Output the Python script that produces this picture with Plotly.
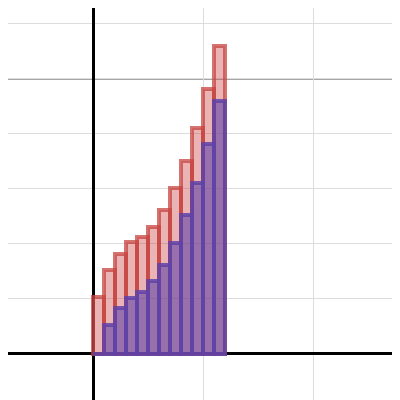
import plotly.graph_objects as go

# Riemann sum rectangles, width 0.1 starting at x=0
bar_left = [0.0, 0.1, 0.2, 0.3, 0.4, 0.5, 0.6, 0.7, 0.8, 0.9, 1.0, 1.1]
upper_heights = [1.04, 1.53, 1.82, 2.04, 2.13, 2.31, 2.62, 3.02, 3.51, 4.11, 4.82, 5.6]
lower_heights = [0.0, 0.53, 0.84, 1.02, 1.13, 1.33, 1.62, 2.02, 2.53, 3.11, 3.82, 4.6]
bar_width = 0.1
ref_line_y = 5

red = 'rgba(199,68,64,0.75)'
purple = 'rgba(96,66,166,0.85)'

fig = go.Figure()
fig.add_trace(go.Bar(
    x=bar_left, y=upper_heights, width=bar_width, offset=0,
    marker=dict(color='rgba(199,68,64,0.4)', line=dict(color=red, width=4)),
))
fig.add_trace(go.Bar(
    x=bar_left, y=lower_heights, width=bar_width, offset=0,
    marker=dict(color='rgba(96,66,166,0.6)', line=dict(color=purple, width=4)),
))
fig.add_hline(y=ref_line_y, line=dict(color='#888888', width=1.5), layer='below')

# page body has an 8px margin, so the plot covers pixels 8..400
fig.update_layout(
    width=392, height=392,
    margin=dict(l=0, r=0, t=0, b=0, pad=0),
    barmode='overlay', bargap=0,
    showlegend=False,
    plot_bgcolor='white', paper_bgcolor='white',
    xaxis=dict(range=[-0.773, 2.79], dtick=1, showticklabels=False,
               gridcolor='#dddddd', zeroline=True, zerolinecolor='black', zerolinewidth=2.5),
    yaxis=dict(range=[-0.84, 6.29], dtick=1, showticklabels=False,
               gridcolor='#dddddd', zeroline=True, zerolinecolor='black', zerolinewidth=2.5),
)

fig.write_html("out.html")
